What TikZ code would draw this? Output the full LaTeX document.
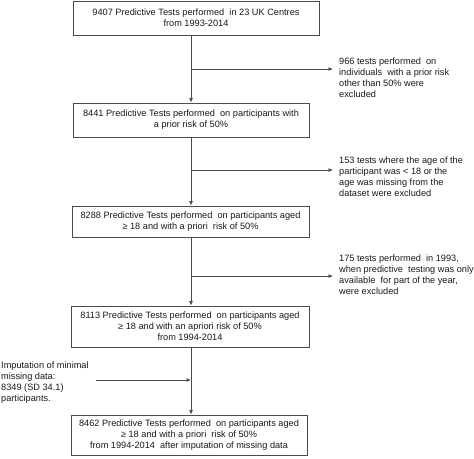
\documentclass[tikz,border=0pt]{standalone}
\usepackage{fontspec}
\setmainfont{Liberation Sans}
\usetikzlibrary{arrows.meta}

\tikzset{
  flowbox/.style={draw=black!70, line width=0.8pt, minimum height=#1, inner sep=0pt, align=center},
  flowbox/.default=34pt,
  sidenote/.style={anchor=west, align=left, inner sep=0pt},
  flowline/.style={draw=black!70, line width=0.8pt},
  flowarrow/.style={flowline, -{Latex[length=4.5pt,width=4pt]}}
}

\begin{document}
\begin{tikzpicture}[x=1pt, y=1pt, font=\fontsize{9.2}{11}\selectfont, text=black!90]
    \useasboundingbox (0,0) rectangle (474,-458);

    % main boxes
    \node[flowbox=34pt, minimum width=246pt] (b1) at (196,-18) {9407 Predictive Tests performed\ \ in 23 UK Centres\\from 1993-2014};
    \node[flowbox=34pt, minimum width=236pt] (b2) at (191,-120) {8441 Predictive Tests performed\ \ on participants with\\a prior risk of 50\%};
    \node[flowbox=31pt, minimum width=237pt] (b3) at (190.5,-221.5) {8288 Predictive Tests performed\ \ on participants aged\\≥ 18 and with a priori\ \ risk of 50\%};
    \node[flowbox=41pt, minimum width=238pt] (b4) at (190,-326.5) {8113 Predictive Tests performed\ \ on participants aged\\≥ 18 and with an apriori risk of 50\%\\from 1994-2014};
    \node[flowbox=40pt, minimum width=236pt] (b5) at (189,-435) {8462 Predictive Tests performed\ \ on participants aged\\≥ 18 and with a priori\ \ risk of 50\%\\from 1994-2014\ \ after imputation of missing data};

    % exclusions
    \node[sidenote] (t1) at (339,-78) {966 tests performed\ \ on\\individuals\ \ with a prior risk\\other than 50\% were\\excluded};
    \node[sidenote] (t2) at (339,-177) {153 tests where the age of the\\participant was < 18 or the\\age was missing from the\\dataset were excluded};
    \node[sidenote] (t3) at (339,-275) {175 tests performed\ \ in 1993,\\when predictive\ \ testing was only\\available\ \ for part of the year,\\were excluded};
    \node[sidenote] (t4) at (1,-383) {Imputation of minimal\\missing data:\\8349 (SD 34.1)\\participants.};

    \coordinate (s1) at (191,-69);
    \coordinate (s2) at (191,-170);
    \coordinate (s3) at (191,-276);
    \coordinate (s4) at (191,-380);
    \coordinate (i0) at (96,-380);

    \draw[flowarrow] (b1.south -| b2.north) -- (b2.north);
    \draw[flowarrow] (b2.south) -- (b3.north -| b2.south);
    \draw[flowarrow] (b3.south -| b2.south) -- (b4.north -| b2.south);
    \draw[flowarrow] (b4.south -| b2.south) -- (b5.north -| b2.south);
    \draw[flowarrow] (s1) -- ([xshift=-6pt]s1 -| t1.west);
    \draw[flowarrow] (s2) -- ([xshift=-6pt]s2 -| t2.west);
    \draw[flowarrow] (s3) -- ([xshift=-6pt]s3 -| t3.west);
    \draw[flowarrow] (i0) -- (s4);
\end{tikzpicture}
\end{document}
